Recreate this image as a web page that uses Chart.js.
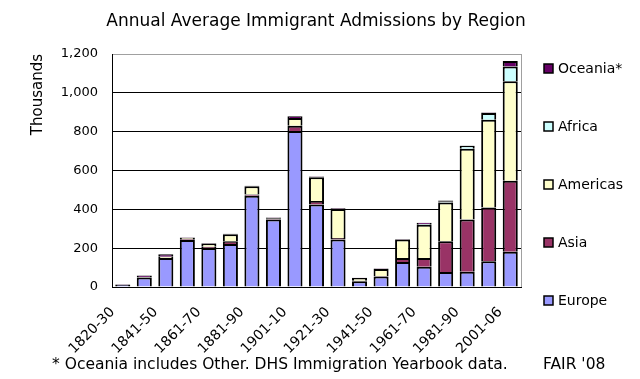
<!DOCTYPE html>
<html>
<head>
<meta charset="utf-8">
<title>Annual Average Immigrant Admissions by Region</title>
<script src="https://cdn.jsdelivr.net/npm/chart.js"></script>
<style>
body{margin:0;background:#fff;}
#chart{display:block;}
</style>
</head>
<body>
<canvas id="chart" width="640" height="379"></canvas>
<script>
// annual average admissions, thousands
const categories=['1820-30','1831-40','1841-50','1851-60','1861-70','1871-80','1881-90','1891-00','1901-10','1911-20','1921-30','1931-40','1941-50','1951-60','1961-70','1971-80','1981-90','1991-00','2001-06'];
const europe  =[10,49,150,242,201,222,470,347,804,425,244,30,54,129,104,77,78,132,181];
const asia    =[0,0,0,4,6,13,7,7,26,18,8,2,3,21,45,158,270,277,366];
const americas=[1,3,6,7,17,37,42,2,40,122,150,14,36,94,172,200,364,452,513];
const africa  =[0,0,0,0,0,0,0,0,1,1,0,0,0,1,4,6,15,35,75];
const oceania =[3,7,13,2,3,2,2,2,8,3,3,2,2,2,6,4,2,3,29];
const yTicks=[0,200,400,600,800,1000,1200];

const chartTitle="Annual Average Immigrant Admissions by Region";
const footnote="* Oceania includes Other. DHS Immigration Yearbook data.";
const credit="FAIR '08";
const FONT='"DejaVu Sans", Arial, sans-serif';

const decor={
id:'decor',
afterDraw(chart){
const c=chart.ctx,a=chart.chartArea,xs=chart.scales.x;
c.save();
// grey frame on the right of the plot
c.strokeStyle='#a0a0a0';c.lineWidth=1;
c.beginPath();c.moveTo(a.right+0.5,a.top);c.lineTo(a.right+0.5,a.bottom);c.stroke();
c.fillStyle='#000';c.textBaseline='middle';
// slanted category labels, every other one
c.font='14px '+FONT;c.textAlign='right';
categories.forEach((lab,i)=>{
if(i%2)return;
c.save();
c.translate(xs.getPixelForValue(i)-10,a.bottom+23);
c.rotate(-Math.PI/4);
c.fillText(lab,0,0);
c.restore();
});
c.font='17px '+FONT;c.textAlign='center';
c.fillText(chartTitle,316,22);
c.font='15.5px '+FONT;c.textAlign='left';
c.fillText(footnote,52,365);
c.fillText(credit,543,365);
// legend, top item = last series
c.font='14px '+FONT;
chart.data.datasets.slice().reverse().forEach((ds,i)=>{
const y=68+i*58;
c.fillStyle=ds.backgroundColor;c.fillRect(544,y-4,9,9);
c.strokeStyle='#000';c.lineWidth=1.5;c.strokeRect(544,y-4,9,9);
c.fillStyle='#000';c.fillText(ds.label,558,y+1);
});
c.restore();
}
};

new Chart(document.getElementById('chart'),{
type:'bar',
data:{
labels:categories,
datasets:[
{label:'Europe',data:europe,backgroundColor:'#9999ff'},
{label:'Asia',data:asia,backgroundColor:'#993366'},
{label:'Americas',data:americas,backgroundColor:'#ffffcc'},
{label:'Africa',data:africa,backgroundColor:'#ccffff'},
{label:'Oceania*',data:oceania,backgroundColor:'#660066'}
].map(d=>Object.assign(d,{borderColor:'#000',borderWidth:2,barPercentage:0.7,categoryPercentage:1}))
},
options:{
responsive:false,
animation:false,
layout:{padding:{top:54,right:119,left:0,bottom:0}},
plugins:{legend:{display:false},title:{display:false},tooltip:{enabled:false}},
scales:{
x:{
stacked:true,
grid:{display:false},
border:{color:'#000',width:1},
ticks:{display:false},
afterFit:s=>{s.height=92;}
},
y:{
stacked:true,min:0,max:1200,
afterBuildTicks:s=>{s.ticks=yTicks.map(v=>({value:v}));},
grid:{color:ctx=>ctx.tick&&ctx.tick.value===1200?'#a0a0a0':'#000',drawTicks:false},
border:{color:'#000',width:1},
ticks:{padding:14,color:'#000',font:{family:FONT,size:13},callback:v=>v.toLocaleString('en-US')},
title:{display:true,text:'Thousands',align:'end',color:'#000',font:{family:FONT,size:15},padding:{top:29,bottom:0}},
afterFit:s=>{s.width=112;}
}
}
},
plugins:[decor]
});
</script>
</body>
</html>
